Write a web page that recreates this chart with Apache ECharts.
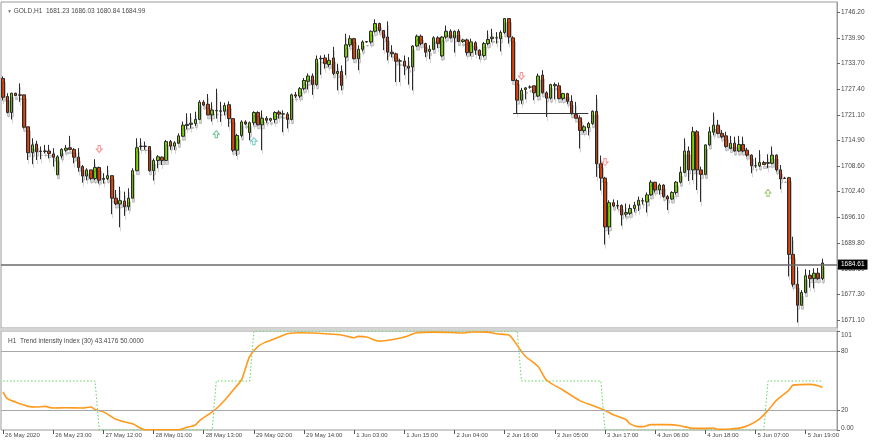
<!DOCTYPE html>
<html><head><meta charset="utf-8">
<script src="https://cdn.jsdelivr.net/npm/echarts@6/dist/echarts.min.js"></script>
<style>html,body{margin:0;padding:0;background:#fff}#c{width:872px;height:443px}</style>
</head><body><div id="c"></div>
<script>
const symbolName = 'GOLD,H1';
const opens = [
1730.0,1725.6,1721.7,1726.4,1726.0,1726.0,1718.2,1711.9,1714.0,1712.3,
1712.3,1712.3,1711.6,1706.5,1711.1,1712.5,1713.1,1712.7,1710.8,1708.5,
1706.2,1707.7,1705.6,1708.3,1705.6,1705.6,1706.3,1700.8,1699.4,1700.1,
1698.7,1700.8,1707.5,1713.4,1713.4,1713.4,1707.5,1710.0,1710.8,1710.0,
1714.6,1713.5,1714.2,1715.9,1718.5,1718.8,1719.0,1720.0,1724.2,1723.7,
1721.1,1722.2,1722.0,1722.0,1723.6,1720.2,1712.5,1716.1,1719.4,1716.8,
1719.2,1721.7,1718.7,1720.3,1719.8,1720.0,1721.8,1721.3,1721.3,1720.0,
1726.0,1725.7,1727.5,1729.3,1730.6,1728.5,1734.8,1735.0,1733.4,1735.0,
1731.2,1731.7,1735.2,1738.2,1739.7,1734.8,1737.1,1738.9,1738.9,1741.5,
1743.4,1741.7,1740.1,1736.4,1736.0,1734.2,1734.2,1733.0,1732.8,1737.9,
1740.3,1738.5,1736.6,1737.1,1739.9,1735.5,1740.1,1741.5,1739.9,1741.5,
1739.0,1739.4,1736.3,1738.7,1736.9,1735.6,1738.5,1739.7,1739.9,1739.7,
1741.2,1744.6,1739.9,1729.5,1724.7,1727.3,1727.9,1728.2,1725.7,1730.8,
1726.5,1725.2,1728.5,1728.2,1725.1,1726.3,1724.4,1721.2,1720.4,1717.3,
1718.0,1719.0,1722.0,1709.2,1705.7,1693.8,1699.7,1698.9,1699.0,1696.9,
1697.1,1698.3,1699.1,1700.1,1699.9,1701.6,1704.7,1702.8,1704.0,1701.2,
1700.6,1702.2,1704.7,1707.1,1712.3,1707.7,1717.0,1707.7,1706.6,1713.8,
1716.9,1718.6,1716.6,1716.0,1712.9,1714.2,1712.3,1713.9,1712.5,1711.3,
1708.7,1708.7,1709.5,1709.3,1709.3,1711.3,1707.7,1705.6,1705.8,1687.1,
1679.8,1674.7,1677.8,1682.0,1681.2,1682.5,1681.23];
const closes = [
1725.4,1721.7,1726.4,1725.8,1725.9,1718.1,1711.9,1713.8,1712.1,1712.2,
1712.2,1711.7,1710.8,1710.9,1712.7,1713.0,1712.7,1710.8,1708.3,1706.2,
1707.7,1705.6,1708.3,1705.2,1705.4,1706.3,1700.8,1699.4,1700.2,1698.7,
1700.8,1707.5,1713.1,1713.5,1713.5,1707.5,1710.0,1710.9,1710.0,1714.6,
1713.5,1714.3,1716.0,1718.6,1718.8,1719.1,1720.0,1724.2,1723.5,1721.1,
1722.3,1722.1,1722.1,1723.4,1720.2,1712.5,1716.1,1719.4,1718.9,1719.2,
1721.7,1718.7,1720.3,1719.8,1720.2,1721.7,1721.3,1721.4,1720.0,1726.0,
1725.7,1727.5,1729.5,1730.6,1728.5,1734.7,1734.9,1733.6,1734.4,1731.2,
1731.7,1728.3,1738.2,1739.7,1734.8,1737.1,1738.9,1739.0,1741.5,1743.4,
1741.7,1739.9,1736.4,1736.0,1734.2,1734.3,1733.0,1732.5,1737.9,1740.3,
1738.5,1736.4,1737.1,1739.9,1738.5,1740.1,1741.5,1739.9,1741.5,1739.0,
1739.4,1736.3,1738.9,1736.9,1735.6,1738.5,1739.5,1740.1,1739.9,1741.2,
1744.6,1740.1,1729.5,1724.7,1727.1,1727.7,1727.9,1726.5,1730.6,1726.5,
1725.2,1728.5,1728.2,1725.1,1726.3,1724.4,1721.4,1720.3,1717.3,1718.2,
1719.0,1722.0,1709.2,1705.7,1693.8,1699.7,1698.9,1699.0,1696.7,1697.3,
1698.3,1699.1,1700.3,1700.2,1701.6,1704.7,1702.8,1704.0,1701.2,1700.6,
1702.2,1704.7,1707.1,1712.3,1707.7,1717.0,1707.7,1706.6,1713.8,1717.0,
1718.6,1716.6,1715.8,1713.4,1714.2,1712.3,1713.9,1712.3,1711.3,1708.7,
1708.7,1709.5,1709.0,1709.5,1711.3,1707.7,1705.5,1705.7,1687.1,1679.8,
1674.7,1677.8,1681.9,1681.2,1682.5,1681.2,1684.99];
const lows = [
1724.7,1721.5,1720.0,1725.7,1724.3,1717.8,1710.1,1709.1,1710.1,1710.3,
1711.7,1710.5,1708.5,1706.5,1710.5,1712.1,1712.5,1709.3,1707.3,1704.6,
1705.2,1705.2,1705.2,1704.4,1704.4,1705.2,1696.9,1699.1,1693.7,1696.5,
1697.9,1700.8,1707.5,1712.6,1712.6,1707.3,1705.1,1708.1,1708.9,1710.0,
1712.6,1712.6,1714.0,1715.8,1717.6,1717.8,1718.4,1719.9,1723.3,1721.1,
1719.5,1720.2,1719.4,1721.0,1718.2,1712.1,1711.1,1715.7,1718.6,1714.9,
1718.6,1718.6,1712.5,1719.2,1719.4,1719.2,1720.2,1716.9,1717.8,1719.8,
1725.2,1725.2,1727.1,1727.3,1726.0,1728.2,1730.9,1732.4,1732.8,1730.8,
1727.1,1727.1,1730.8,1737.7,1734.7,1732.0,1736.6,1738.7,1738.5,1741.2,
1741.2,1736.9,1734.4,1735.2,1729.1,1729.1,1730.8,1728.5,1727.1,1737.7,
1738.1,1735.2,1734.7,1736.9,1737.4,1735.2,1739.7,1739.7,1736.3,1738.9,
1738.7,1735.6,1735.5,1735.8,1734.7,1735.2,1738.1,1738.9,1738.5,1736.6,
1740.9,1738.5,1729.5,1721.4,1723.8,1724.9,1727.5,1724.7,1725.5,1726.3,
1720.6,1724.9,1724.9,1724.9,1724.7,1723.8,1721.2,1720.3,1712.9,1716.8,
1716.1,1718.7,1706.0,1702.7,1689.5,1691.9,1698.6,1698.2,1694.1,1696.3,
1696.7,1697.5,1697.7,1699.3,1697.3,1701.4,1702.2,1701.7,1700.9,1697.9,
1700.4,1701.7,1704.4,1706.9,1705.0,1705.2,1702.8,1699.9,1706.4,1713.6,
1716.2,1716.4,1715.4,1713.1,1712.8,1712.1,1712.1,1712.0,1710.9,1706.9,
1708.2,1708.4,1708.9,1708.1,1709.1,1707.3,1703.0,1705.5,1681.7,1679.2,
1670.5,1674.6,1677.6,1679.0,1678.8,1680.9,1680.84];
const highs = [
1730.5,1726.4,1726.5,1726.5,1728.8,1726.0,1718.2,1715.4,1714.8,1713.4,
1713.8,1713.8,1713.0,1711.3,1713.0,1713.8,1716.0,1713.0,1713.0,1708.9,
1708.1,1707.7,1710.3,1708.5,1706.9,1708.7,1706.3,1702.8,1703.6,1702.4,
1703.2,1708.1,1715.4,1715.4,1714.6,1713.4,1710.5,1711.3,1711.0,1715.0,
1715.0,1714.7,1716.6,1719.5,1721.5,1721.5,1721.9,1724.7,1724.7,1726.2,
1724.2,1727.5,1724.3,1724.1,1724.4,1720.3,1716.5,1719.8,1719.8,1719.5,
1722.0,1722.0,1722.2,1720.8,1720.4,1722.0,1722.2,1722.2,1721.8,1726.3,
1726.7,1727.9,1730.1,1731.2,1731.2,1735.6,1735.6,1735.8,1736.0,1737.7,
1733.6,1733.2,1740.9,1740.5,1739.9,1738.1,1739.3,1739.1,1741.7,1744.4,
1743.6,1741.7,1743.9,1738.1,1736.3,1734.8,1735.6,1735.2,1738.1,1740.7,
1740.7,1738.7,1738.1,1740.3,1740.3,1740.3,1742.9,1742.0,1741.7,1742.0,
1739.7,1739.7,1739.7,1739.1,1737.1,1738.9,1741.7,1742.1,1741.3,1741.7,
1744.7,1744.7,1740.3,1729.9,1727.7,1727.9,1728.3,1728.2,1731.2,1732.0,
1726.9,1728.7,1729.0,1729.0,1726.5,1726.5,1725.9,1724.3,1721.0,1718.6,
1719.4,1722.2,1726.0,1711.2,1706.0,1700.3,1700.5,1700.3,1699.3,1699.5,
1699.3,1699.9,1701.2,1700.9,1702.2,1705.2,1704.8,1704.4,1704.2,1701.6,
1702.5,1705.0,1708.5,1715.4,1713.4,1718.2,1717.4,1708.5,1713.9,1718.2,
1721.7,1719.9,1717.4,1717.0,1716.0,1715.8,1716.0,1715.8,1713.1,1711.5,
1710.7,1712.5,1709.9,1711.5,1713.4,1711.5,1708.9,1706.0,1706.0,1691.4,
1684.1,1678.4,1683.5,1683.3,1683.7,1683.8,1686.03];
const bidPrice = 1684.61;
const emptySlots = 3;
const xTickLabels = ['26 May 2020','26 May 23:00','27 May 12:00','28 May 01:00','28 May 13:00','29 May 02:00','29 May 14:00','1 Jun 03:00','1 Jun 15:00','2 Jun 04:00','2 Jun 16:00','3 Jun 05:00','3 Jun 17:00','4 Jun 06:00','4 Jun 18:00','5 Jun 07:00','5 Jun 19:00'];
const barsPerXTick = 12;
const priceTicks = [1746.20,1739.90,1733.70,1727.40,1721.10,1714.90,1708.60,1702.40,1696.10,1689.80,1683.60,1677.30,1671.10];
const priceMin = 1669.15, priceMax = 1748.64;
const tiiTicks = [0, 20, 80, 101];
const tiiLevels = [20, 80];
const tiiPeriod = 30;
const tiiPoints = [[0,38.9],[1,32],[3,28.5],[4,26.8],[6,24.1],[8,23.4],[10,24.1],[12,22.4],[15,22.7],[19,22.4],[21,23.4],[22,21],[24,18.5],[27,11],[30,7.3],[31,6.3],[34,0.3],[42,0.3],[44,2.7],[46,5.1],[47,9.6],[49,15.5],[51,21.7],[53,30.3],[55,40.6],[57,51],[58,63],[59,75],[61,85.4],[63,90],[64,91.3],[66,94.8],[68,98.2],[71,99.2],[74,98.9],[77,98.2],[81,96.9],[84,94.1],[85,95.5],[87,94.8],[90,90.7],[93,92],[96,94.8],[99,99.2],[103,99.9],[107,99.5],[110,98.9],[112,100],[116,99.9],[118,98.2],[121,96.9],[122,92.4],[124,80.3],[125,75],[128,64.7],[130,51],[134,40.6],[138,30],[141,25],[144,20],[146,15.5],[149,10.7],[150,6.2],[152,3.4],[153,3.4],[155,5.5],[159,5.5],[162,4.4],[165,1.7],[169,1.7],[170,2],[171,0.7],[174,1],[177,2.7],[179,6.2],[181,11.4],[183,20],[185,30.3],[188,40.6],[189,45.8],[193,46.5],[195,45.1],[196,43.4176]];
const signalSteps = [[0,50],[22,50],[23,0],[50,0],[51,50],[59,50],[60,101],[123,101],[124,50],[143,50],[144,0],[182,0],[183,50],[196,50]];
const upArrows = [[51,1716.4,'#3cb371'],[60,1714.7,'#3cbfb0'],[183,1702.1,'#8fbc5f']];
const downArrows = [[23,1712.8],[124,1730.6],[144,1709.6]];
const supportLine = {from: 122, to: 140, price: 1721.6};

const n = opens.length;
const categories = Array.from({length: n + emptySlots}, (_, i) => String(i));
const candleData = opens.map((o, i) => [o, closes[i], lows[i], highs[i]]);
const last = n - 1;
const txt = '#4a4a4a';
const font = 'Liberation Sans';
const fs = 6.5;
const isTick = i => i % barsPerXTick === 0 && i / barsPerXTick < xTickLabels.length;

const chart = echarts.init(document.getElementById('c'), null, {renderer: 'canvas'});
chart.setOption({
  animation: false,
  backgroundColor: '#fff',
  textStyle: {fontFamily: font},
  title: [
    {left: 2, top: 3, text: '{tri|▼} ' + symbolName + '  ' + [opens[last], highs[last], lows[last], closes[last]].map(v => v.toFixed(2)).join(' '),
     textStyle: {fontSize: fs, color: txt, fontWeight: 'normal', fontFamily: font, rich: {tri: {fontSize: 5, color: '#777'}}}},
    {left: 3, top: 333, text: 'H1  Trend intensity index (' + tiiPeriod + ') ' + tiiPoints[tiiPoints.length-1][1].toFixed(4) + ' ' + signalSteps[signalSteps.length-1][1].toFixed(4),
     textStyle: {fontSize: fs, color: txt, fontWeight: 'normal', fontFamily: font}}
  ],
  graphic: [{type: 'rect', shape: {x: 0, y: 328, width: 838, height: 3}, style: {fill: '#d4d4d4'}, z: 0}],
  grid: [
    {left: 1, top: 2, width: 836, height: 326, show: true, borderColor: '#9a9a9a', borderWidth: 1},
    {left: 1, top: 331, width: 836, height: 99, show: true, borderColor: '#9a9a9a', borderWidth: 1}
  ],
  xAxis: [
    {type: 'category', gridIndex: 0, data: categories, boundaryGap: true, show: false},
    {type: 'category', gridIndex: 1, data: categories, boundaryGap: true,
     axisLine: {show: false}, splitLine: {show: false},
     axisTick: {show: true, alignWithLabel: true, interval: isTick, length: 4, lineStyle: {color: '#555'}},
     axisLabel: {interval: isTick, formatter: (v, i) => xTickLabels[i / barsPerXTick] || '', align: 'left', padding: [0,0,0,2],
       fontSize: 6, color: txt, fontFamily: font, margin: 2}}
  ],
  yAxis: [
    {type: 'value', gridIndex: 0, position: 'right', min: priceMin, max: priceMax, scale: true,
     splitLine: {show: false}, axisLine: {show: true, lineStyle: {color: '#9a9a9a'}},
     axisTick: {show: true, customValues: priceTicks, length: 3, lineStyle: {color: '#666'}},
     axisLabel: {customValues: priceTicks, formatter: v => v.toFixed(2), fontSize: fs, color: txt, fontFamily: font, margin: 4}},
    {type: 'value', gridIndex: 1, position: 'right', min: 0, max: 101,
     splitLine: {show: false}, axisLine: {show: true, lineStyle: {color: '#9a9a9a'}},
     axisTick: {show: true, customValues: tiiTicks, length: 3, lineStyle: {color: '#666'}},
     axisLabel: {customValues: tiiTicks, fontSize: fs, color: txt, fontFamily: font, margin: 4,
       formatter: v => v === 101 ? '{t|101}' : (v === 0 ? '{b|0.00}' : String(v)),
       rich: {t: {padding: [9,0,0,0], fontSize: fs, color: txt}, b: {padding: [0,0,4,0], fontSize: fs, color: txt}}}}
  ],
  series: [
    {type: 'candlestick', xAxisIndex: 0, yAxisIndex: 0, data: candleData, barWidth: 3,
     itemStyle: {color: '#7ed600', color0: '#e4450a', borderColor: '#2a2a2a', borderColor0: '#2a2a2a', borderWidth: 1,
       shadowColor: 'rgba(0,0,0,0.16)', shadowOffsetX: 1, shadowOffsetY: 4, shadowBlur: 0},
     markLine: {silent: true, symbol: ['none','none'], animation: false,
       data: [
         {yAxis: bidPrice, lineStyle: {color: '#6a6a6a', width: 1.5, type: 'solid'},
          label: {show: true, position: 'end', formatter: bidPrice.toFixed(2), backgroundColor: '#000', color: '#fff', fontSize: fs, fontFamily: font, padding: [2,3,1,3], distance: 1}},
         [{coord: [supportLine.from, supportLine.price], lineStyle: {color: '#333', width: 1, type: 'solid'}, label: {show: false}},
          {coord: [supportLine.to, supportLine.price]}]
       ]}},
    {type: 'scatter', xAxisIndex: 0, yAxisIndex: 0, symbol: 'path://M5,0 L10,5 L7,5 L7,10 L3,10 L3,5 L0,5 Z', symbolSize: [6,7],
     data: upArrows.map(a => ({value: [a[0], a[1]], itemStyle: {color: '#fff', borderColor: a[2], borderWidth: 1}})), z: 5},
    {type: 'scatter', xAxisIndex: 0, yAxisIndex: 0, symbol: 'path://M3,0 L7,0 L7,5 L10,5 L5,10 L0,5 L3,5 Z', symbolSize: [6,7],
     data: downArrows.map(a => [a[0], a[1]]), itemStyle: {color: '#fff', borderColor: '#f07a7a', borderWidth: 1}, z: 5},
    {type: 'line', xAxisIndex: 1, yAxisIndex: 1, data: signalSteps, showSymbol: false,
     lineStyle: {color: '#5fd35f', width: 1, type: [1.5, 2]}, z: 3},
    {type: 'line', xAxisIndex: 1, yAxisIndex: 1, data: tiiPoints, showSymbol: false, smooth: 0.3,
     lineStyle: {color: '#ff9a1e', width: 1.6}, z: 4,
     markLine: {silent: true, symbol: ['none','none'], label: {show: false},
       lineStyle: {color: '#a8a8a8', width: 1, type: 'solid'}, data: tiiLevels.map(v => ({yAxis: v}))}}
  ]
});
</script></body></html>
